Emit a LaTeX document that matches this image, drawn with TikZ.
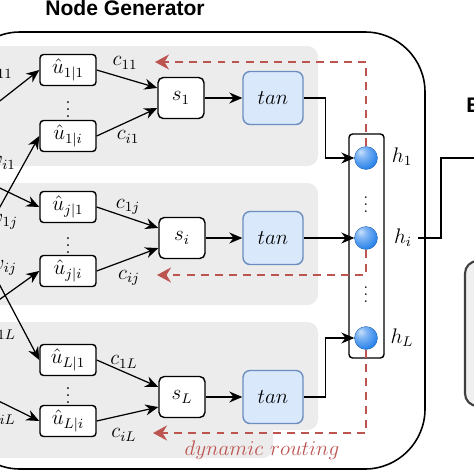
\documentclass[tikz,border=0pt]{standalone}
\usepackage{fontspec}
\newfontfamily\headfont{Liberation Sans}
\usetikzlibrary{arrows.meta}
\definecolor{routered}{RGB}{188,84,80}
\definecolor{tanfill}{RGB}{218,232,252}
\definecolor{tanline}{RGB}{108,142,191}
\definecolor{panelgray}{RGB}{236,236,236}
\definecolor{ballblue}{RGB}{40,130,235}
\pgfdeclareradialshading{hshade}{\pgfpoint{-12bp}{14bp}}{%
  color(0bp)=(ballblue!25!white); color(12bp)=(ballblue!60!white);
  color(32bp)=(ballblue); color(70bp)=(ballblue!85!black)}

\begin{document}
\begin{tikzpicture}[x=0.02cm,y=-0.02cm,
  every node/.style={font=\large},
  ubox/.style={draw,thick,rounded corners=2pt,fill=white,minimum width=1.12cm,minimum height=0.62cm,inner sep=0pt},
  sbox/.style={draw,thick,rounded corners=3pt,fill=white,minimum width=0.92cm,minimum height=0.82cm},
  tbox/.style={draw=tanline,thick,rounded corners=4pt,fill=tanfill,minimum width=1.2cm,minimum height=1.06cm},
  panel/.style={fill=panelgray,rounded corners=6pt},
  hball/.style={circle,draw=ballblue!70!black,very thin,shading=hshade,minimum size=0.46cm,inner sep=0pt},
  dots/.style={inner sep=0pt,font=\normalsize},
  flow/.style={-{Stealth[length=2.6mm,width=2.2mm]},line width=0.7pt},
  route/.style={color=routered,line width=1.1pt,dash pattern=on 4.5pt off 3.5pt,-{Stealth[length=2.8mm,width=3mm]}},
  head/.style={font=\headfont\bfseries\large}]
  \useasboundingbox (0,0) rectangle (474,474);
  % background panels
  \fill[panel] (-40,46) rectangle (318,166);
  \fill[panel] (-40,183) rectangle (318,305);
  \fill[panel] (-40,322) rectangle (318,430);
  \fill[panel] (-40,380) rectangle (273,458);
  \draw[line width=0.9pt,rounded corners=1.2cm] (-40,32) rectangle (425,469);
  \node[head,anchor=base] (title) at (125,15) {Node Generator};
  \node[head,anchor=base west,inner sep=0pt] (egen) at (466,112) {E};
  \draw[draw=black!75,line width=1.2pt,fill=black!6,rounded corners=0.25cm] (465,261) rectangle (540,406);
  % prediction vectors
  \node[ubox] (u11) at (68,70) {$\hat{u}_{1|1}$};
  \node[ubox] (u1i) at (68,136) {$\hat{u}_{1|i}$};
  \node[ubox] (uj1) at (68,207) {$\hat{u}_{j|1}$};
  \node[ubox] (uji) at (68,271) {$\hat{u}_{j|i}$};
  \node[ubox] (uL1) at (68,360) {$\hat{u}_{L|1}$};
  \node[ubox] (uLi) at (68,421) {$\hat{u}_{L|i}$};
  \node[dots] (d1) at (68,104) {$\vdots$};
  \node[dots] (d2) at (68,240) {$\vdots$};
  \node[dots] (d3) at (68,390) {$\vdots$};
  \node[sbox] (s1) at (181,98) {$s_1$};
  \node[sbox] (si) at (182,238) {$s_i$};
  \node[sbox] (sL) at (182,397) {$s_L$};
  \node[tbox] (t1) at (273,98) {$tan$};
  \node[tbox] (ti) at (273,238) {$tan$};
  \node[tbox] (tL) at (273,397) {$tan$};
  % output column
  \node[draw,thick,rounded corners=2pt,minimum width=0.7cm,minimum height=4.48cm] (col) at (366.5,246) {};
  \node[hball] (h1) at (366,158) {};
  \node[hball] (hi) at (366,238) {};
  \node[hball] (hL) at (366,338) {};
  \node[dots,font=\small] (cd1) at (366,199) {$\vdots$};
  \node[dots,font=\small] (cd2) at (366,289) {$\vdots$};
  \node (lh1) at (402,157) {$h_1$};
  \node (lhi) at (403,238) {$h_i$};
  \node (lhL) at (402,338) {$h_L$};
  % coupling coefficients
  \node (c11) at (125,63) {$c_{11}$};
  \node (ci1) at (128,137) {$c_{i1}$};
  \node (c1j) at (128,207) {$c_{1j}$};
  \node (cij) at (129,278) {$c_{ij}$};
  \node (c1L) at (124,362) {$c_{1L}$};
  \node (ciL) at (124,435) {$c_{iL}$};
  % inputs
  \coordinate (x1) at (-69,155);
  \coordinate (xi) at (-85,360);
  \foreach \u in {u11,uj1,uL1} \draw[flow] (x1) -- (\u.west);
  \foreach \u in {u1i,uji,uLi} \draw[flow] (xi) -- (\u.west);
  \node[anchor=east] (w11) at (19,72) {$w_{11}$};
  \node[anchor=east] (wi1) at (22,163) {$w_{i1}$};
  \node[anchor=east] (w1j) at (24,222) {$w_{1j}$};
  \node[anchor=east] (wij) at (23,268) {$w_{ij}$};
  \node[anchor=east] (w1L) at (22,333) {$w_{1L}$};
  \node[anchor=east] (wiL) at (22,418) {$w_{iL}$};
  \foreach \grp/\sn in {1/1,j/i,L/L} {
    \draw[flow] (u\grp 1.east) -- (s\sn.157);
    \draw[flow] (u\grp i.east) -- (s\sn.203);
    \draw[flow] (s\sn) -- (t\sn);
  }
  \draw[flow] (t1.east) -- ++(22,0) |- (h1.west);
  \draw[flow] (ti) -- (hi);
  \draw[flow] (tL.east) -- ++(22,0) |- (hL.west);
  \coordinate (bend) at (441,158);
  \coordinate (eout) at (490,158);
  \draw[line width=0.7pt] (lhi.east) -| (bend) -- (eout);
  % dynamic routing
  \coordinate (r1) at (155,62);
  \coordinate (r2) at (157,275);
  \coordinate (r3) at (153,433);
  \draw[route] (h1.north) |- (r1);
  \draw[route] (hi.south) |- (r2);
  \draw[route] (hL.south) |- (r3);
  \node[text=routered] (dyn) at (262,450) {$dynamic\ routing$};
\end{tikzpicture}
\end{document}
